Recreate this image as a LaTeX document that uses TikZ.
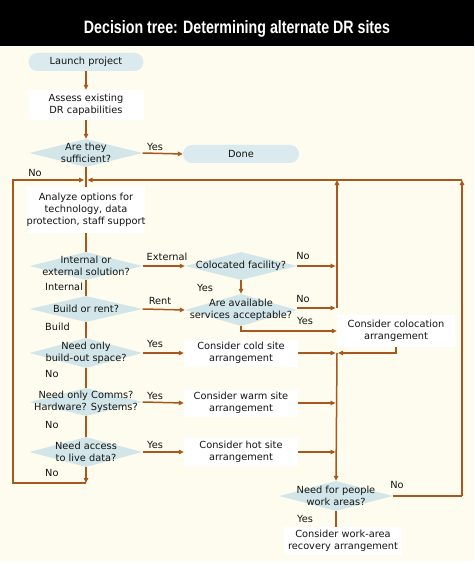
\documentclass[tikz,border=0pt]{standalone}
\usepackage{fontspec}
\setmainfont{DejaVu Sans}
\newfontfamily\titlefont{Liberation Sans}
\usetikzlibrary{arrows.meta,shapes.geometric}
\definecolor{bgc}{RGB}{253,252,239}
\definecolor{brownc}{RGB}{168,88,30}
\definecolor{pillc}{RGB}{218,234,238}
\definecolor{diac}{RGB}{210,230,234}
\definecolor{txtc}{RGB}{20,20,20}
\tikzset{
  pill/.style={rounded corners=9pt, fill=pillc, minimum width=115pt, minimum height=18pt, inner sep=0pt, font=\fontsize{9.8}{12}\selectfont, text=txtc},
  wbox/.style={fill=white, minimum width=115pt, inner sep=0pt, align=center, font=\fontsize{9.8}{12}\selectfont, text=txtc},
  dshape/.style={diamond, fill=diac, minimum width=113pt, minimum height=30pt, inner sep=0pt},
  dtext/.style={align=center, font=\fontsize{9.8}{12}\selectfont, text=txtc, inner sep=0pt},
  lbl/.style={font=\fontsize{9.8}{12}\selectfont, text=txtc, inner sep=0pt},
  conn/.style={draw=brownc, line width=1.5pt},
  arr/.style={conn, -{Triangle[length=5pt,width=4.5pt]}},
}
\begin{document}
\begin{tikzpicture}[x=1pt,y=-1pt]
\useasboundingbox (0,0) rectangle (474,564);
\fill[white] (0,0) rectangle (474,564);
\fill[bgc] (0,47) rectangle (474,561);
\fill[black] (0,0) rectangle (474,46);
\node[anchor=base, text=white, inner sep=0pt] (title) at (237,34)
  {\resizebox{306pt}{13pt}{\titlefont\bfseries Decision tree: Determining alternate DR sites}};

% nodes
\node[pill] (launch) at (86,62) {Launch project};
\node[wbox, minimum height=30pt] (assess) at (86,105) {Assess existing\\DR capabilities};
\node[dshape, minimum height=28pt] (suff) at (86,153) {};
\node[dtext] at (suff) {Are they\\sufficient?};
\node[pill, minimum width=116pt] (done) at (241,154) {Done};
\node[wbox, minimum height=46pt] (analyze) at (86,210) {Analyze options for\\technology, data\\protection, staff support};
\node[dshape, minimum height=28pt] (intext) at (86,266) {};
\node[dtext] at (intext) {Internal or\\external solution?};
\node[dshape, minimum width=112pt, minimum height=28pt] (coloc) at (241,266) {};
\node[dtext] at (coloc) {Colocated facility?};
\node[dshape, minimum height=26pt] (build) at (86,309) {};
\node[dtext] at (build) {Build or rent?};
\node[dshape, minimum width=112pt, minimum height=32pt] (avail) at (241,310) {};
\node[dtext] at (avail) {Are available\\services acceptable?};
\node[wbox, minimum width=118pt, minimum height=32pt] (colocbox) at (396,331) {Consider colocation\\arrangement};
\node[dshape] (buildout) at (86,353) {};
\node[dtext] at (buildout) {Need only\\build-out space?};
\node[wbox, minimum width=114pt, minimum height=27pt] (cold) at (241,353) {Consider cold site\\arrangement};
\node[dshape, minimum height=28pt] (comms) at (86,402) {};
\node[dtext] at (comms) {Need only Comms?\\Hardware? Systems?};
\node[wbox, minimum width=114pt, minimum height=27pt] (warm) at (241,403) {Consider warm site\\arrangement};
\node[dshape] (live) at (86,452) {};
\node[dtext] at (live) {Need access\\to live data?};
\node[wbox, minimum width=114pt, minimum height=28pt] (hot) at (241,452) {Consider hot site\\arrangement};
\node[dshape] (people) at (336,496) {};
\node[dtext] at (people) {Need for people\\work areas?};
\node[wbox, minimum width=118pt, minimum height=28pt] (workarea) at (343,541) {Consider work-area\\recovery arrangement};

% junction coordinates
\coordinate (J) at (86,180);
\coordinate (LB) at (86,483);
\coordinate (LTL) at (13,180);
\coordinate (LBL) at (13,483);
\coordinate (RT) at (462,180);
\coordinate (RB) at (462,496);
\coordinate (MT) at (337,180);
\coordinate (MN1) at (337,266);
\coordinate (MN2) at (337,308);
\coordinate (M) at (337,353);
\coordinate (MW) at (337,403);
\coordinate (MH) at (337,452);

% connectors
\draw[arr] (launch) -- (assess);
\draw[arr] (assess) -- (suff);
\draw[arr] (suff.east) -- (done.west);
\draw[conn] (suff.south) -- (J);
\draw[conn] (J) -- (analyze.north);
\draw[conn] (analyze.south) -- (intext.north);
\draw[arr] (intext.east) -- (coloc.west);
\draw[arr] (coloc.south) -- (avail.north);
\draw[conn] (intext.south) -- (build.north);
\draw[arr] (build.east) -- (avail.west);
\draw[conn] (build.south) -- (buildout.north);
\draw[arr] (buildout.east) -- (cold.west);
\draw[conn] (buildout.south) -- (comms.north);
\draw[arr] (comms.east) -- (warm.west);
\draw[conn] (comms.south) -- (live.north);
\draw[arr] (live.east) -- (hot.west);
\draw[arr] (live.south) -- (LB);
\draw[arr, shorten >=2pt] (LB) -- (LBL) -- (LTL) -- (J);
% colocation branch
\draw[arr, shorten >=1.5pt] (coloc.east) -- (MN1);
\draw[arr, shorten >=1.5pt] (avail.east |- MN2) -- (MN2);
\draw[arr] (MN2) -- (MT);
\draw[arr, shorten >=1.5pt] (MT) -- (J);
\draw[arr] (avail.south) |- (colocbox.west);
\draw[arr, shorten >=1pt] (colocbox.south) |- (M);
\draw[arr, shorten >=1.5pt] (cold.east) -- (M);
\draw[arr, shorten >=1.5pt] (warm.east) -- (MW);
\draw[arr, shorten >=1.5pt] (hot.east) -- (MH);
\draw[arr] (M) -- (people.north);
\draw[conn] (people.east) -- (RB);
\draw[arr] (RB) -- (RT);
\draw[conn] (RT) -- (MT);
\draw[conn] (people.south) -- (people.south |- workarea.north);

% labels
\node[lbl] (lno1) at (35,173) {No};
\node[lbl] (lyes1) at (155,147) {Yes};
\node[lbl] (lext) at (167,257) {External};
\node[lbl] (lno2) at (303,256) {No};
\node[lbl] (lyes2) at (205,288) {Yes};
\node[lbl, anchor=west] (lint) at (45,287) {Internal};
\node[lbl] (lrent) at (160,301) {Rent};
\node[lbl] (lno3) at (303,299) {No};
\node[lbl] (lyes3) at (305,321) {Yes};
\node[lbl, anchor=west] (lbuild) at (45,327) {Build};
\node[lbl] (lyes4) at (155,344) {Yes};
\node[lbl, anchor=west] (lno4) at (45,374) {No};
\node[lbl] (lyes5) at (155,396) {Yes};
\node[lbl, anchor=west] (lno5) at (45,425) {No};
\node[lbl] (lyes6) at (155,445) {Yes};
\node[lbl, anchor=west] (lno6) at (45,473) {No};
\node[lbl] (lno7) at (397,485) {No};
\node[lbl] (lyes7) at (305,519) {Yes};
\end{tikzpicture}
\end{document}
